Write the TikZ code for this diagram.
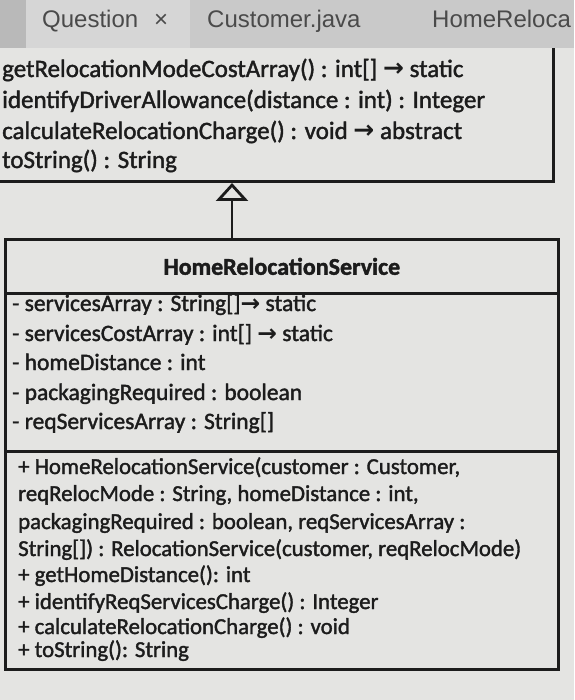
\documentclass[tikz,border=0pt]{standalone}
\usepackage{fontspec}
\setmainfont{Carlito}[FakeBold=1.6]
\newfontfamily\tabfont{Liberation Sans}
\newfontfamily\symfont{DejaVu Sans}
\usetikzlibrary{arrows.meta}
\definecolor{bg}{HTML}{E4E4E2}
\definecolor{ink}{HTML}{1C1C1C}
\definecolor{tabbar}{HTML}{C9C9C9}
\definecolor{tabact}{HTML}{D6D6D6}
\definecolor{tabside}{HTML}{B9B9B9}
\definecolor{tabink}{HTML}{4A4A4A}
\newcommand\arr{{\symfont\bfseries →}}
\begin{document}
\begin{tikzpicture}[x=1pt,y=-1pt,
  box/.style={draw=ink, line width=2.8pt, rectangle, inner sep=0pt},
  txt/.style={anchor=base west, inner sep=0pt, text=ink},
  toptxt/.style={txt, font=\fontsize{25}{30}\selectfont},
  attxt/.style={txt, font=\fontsize{23.5}{28}\selectfont},
  metxt/.style={txt, font=\fontsize{22.8}{27}\selectfont},
  tabtxt/.style={anchor=base west, inner sep=0pt, text=tabink, font=\tabfont\fontsize{24}{28}\selectfont},
  inherit/.style={draw=ink, line width=2.8pt, -{Triangle[open, length=18pt, width=32pt]}}]
\useasboundingbox (0,0) rectangle (574,700);
\fill[bg] (0,0) rectangle (574,700);
% parent class (top part hidden under the tab bar)
\node[box, anchor=south west, minimum width=561pt, minimum height=160pt] (parent) at (-9,183) {};
\node[toptxt] (p1) at (2,77) {getRelocationModeCostArray() : int[] \arr{} static};
\node[toptxt] (p2) at (2,108) {identifyDriverAllowance(distance : int) : Integer};
\node[toptxt] (p3) at (2,139) {calculateRelocationCharge() : void \arr{} abstract};
\node[toptxt] (p4) at (2,168) {toString() : String};
% tab bar
\fill[tabbar] (0,0) rectangle (574,48);
\fill[tabside] (0,0) rectangle (26,48);
\fill[tabact] (26,0) rectangle (190,48);
\node[tabtxt] (tq) at (42,28) {Question};
\node[tabtxt] (tx) at (154,28) {×};
\node[tabtxt] (tc) at (207,28) {Customer.java};
\node[tabtxt] (th) at (432,28) {HomeReloca};
% child class
\node[box, anchor=north west, minimum width=553pt, minimum height=54pt,
      font=\bfseries\fontsize{24}{28}\selectfont, text=ink] (chead) at (4,238) {HomeRelocationService};
\node[box, anchor=north west, minimum width=553pt, minimum height=158pt] (cattr) at (4,292) {};
\node[box, anchor=north west, minimum width=553pt, minimum height=218pt] (cmeth) at (4,450) {};
\node[attxt] (a1) at (12,311) {- servicesArray : String[]\arr{} static};
\node[attxt] (a2) at (12,341) {- servicesCostArray : int[] \arr{} static};
\node[attxt] (a3) at (12,370) {- homeDistance : int};
\node[attxt] (a4) at (12,400) {- packagingRequired : boolean};
\node[attxt] (a5) at (12,429) {- reqServicesArray : String[]};
\node[metxt] (m1) at (18,474) {+ HomeRelocationService(customer : Customer,};
\node[metxt] (m2) at (18,501) {reqRelocMode : String, homeDistance : int,};
\node[metxt] (m3) at (18,529) {packagingRequired : boolean, reqServicesArray :};
\node[metxt] (m4) at (18,556) {String[]) : RelocationService(customer, reqRelocMode)};
\node[metxt] (m5) at (18,582) {+ getHomeDistance(): int};
\node[metxt] (m6) at (18,609) {+ identifyReqServicesCharge() : Integer};
\node[metxt] (m7) at (18,634) {+ calculateRelocationCharge() : void};
\node[metxt] (m8) at (18,657) {+ toString(): String};
% generalisation
\coordinate (stem) at (232,0);
\draw[inherit] (chead.north -| stem) -- (parent.south -| stem);
\end{tikzpicture}
\end{document}
